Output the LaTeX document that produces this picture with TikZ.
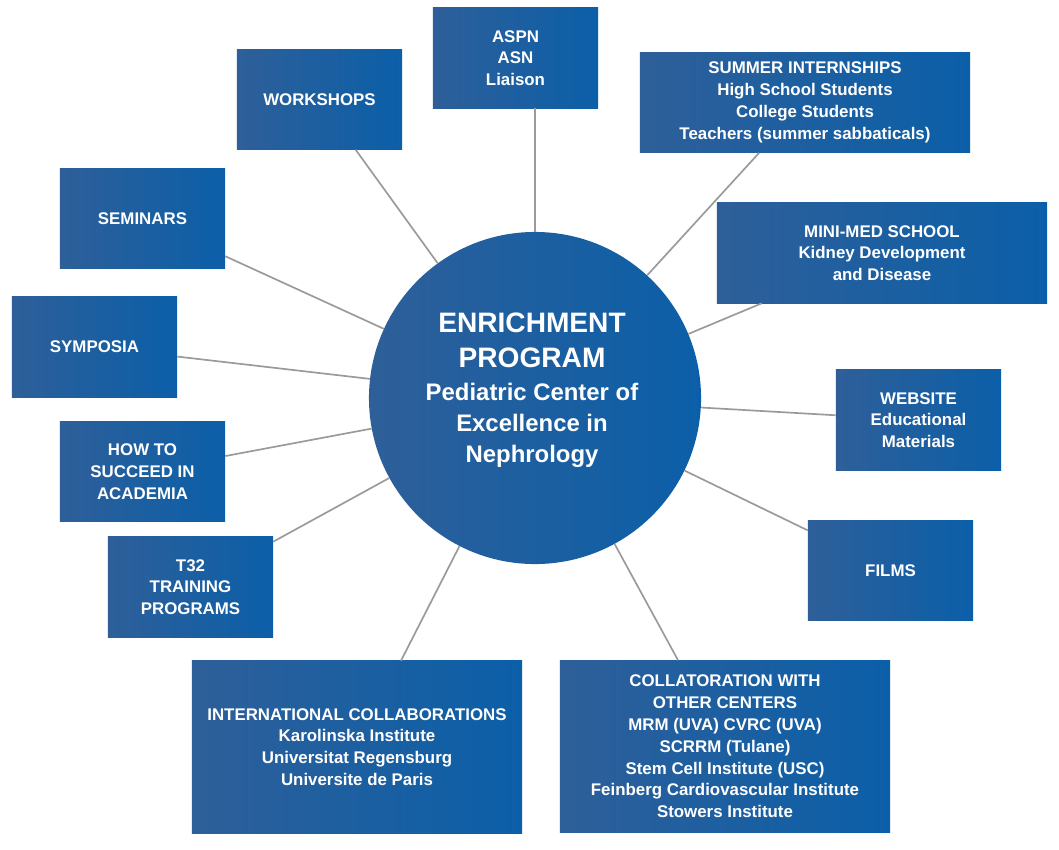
\documentclass[tikz,border=0pt]{standalone}
\usepackage{fontspec}
\setmainfont{Liberation Sans}
\usetikzlibrary{positioning}
\definecolor{bdark}{HTML}{2E5F99}
\definecolor{blight}{HTML}{229CDA}
\definecolor{bdeep}{HTML}{0B5FA8}
\definecolor{spoke}{HTML}{9A9A9A}
\tikzset{
  topic/.style={minimum width=4.125cm, minimum height=2.5cm, inner sep=2pt,
    left color=bdark, middle color=blight, right color=bdeep,
    text=white, font=\bfseries\fontsize{12}{15.5}\selectfont, align=center},
  widetopic/.style={topic, minimum width=8.25cm},
  tallwide/.style={widetopic, minimum height=4.3cm},
  hub/.style={circle, minimum size=8.3cm, inner sep=0pt,
    left color=bdark, middle color=blight, right color=bdeep,
    text=white, align=center},
  spokeline/.style={spoke, line width=1.2pt}
}
\begin{document}
\begin{tikzpicture}[x=0.025cm, y=-0.025cm]
    % Frame
    \useasboundingbox (0,0) rectangle (1059,849);

    % Outer topics
    \node[topic] (aspn) at (515.5,58) {ASPN\\ASN\\Liaison};
    \node[topic] (work) at (319.5,99.5) {WORKSHOPS};
    \node[widetopic] (summer) at (805,102.5) {SUMMER INTERNSHIPS\\High School Students\\College Students\\Teachers (summer sabbaticals)};
    \node[topic] (sem) at (142.5,218.5) {SEMINARS};
    \node[widetopic] (mini) at (882,253) {MINI-MED SCHOOL\\Kidney Development\\and Disease};
    \node[topic] (symp) at (94.5,347) {SYMPOSIA};
    \node[topic] (web) at (918.5,420) {WEBSITE\\Educational\\Materials};
    \node[topic] (howto) at (142.5,471.5) {HOW TO\\SUCCEED IN\\ACADEMIA};
    \node[topic] (t32) at (190.5,587) {T32\\TRAINING\\PROGRAMS};
    \node[topic] (films) at (890.5,570.5) {FILMS};
    \node[tallwide] (intl) at (357,747) {INTERNATIONAL COLLABORATIONS\\Karolinska Institute\\Universitat Regensburg\\Universite de Paris};
    \node[tallwide] (collab) at (725,746.5) {COLLATORATION WITH\\OTHER CENTERS\\MRM (UVA) CVRC (UVA)\\SCRRM (Tulane)\\Stem Cell Institute (USC)\\Feinberg Cardiovascular Institute\\Stowers Institute};

    % Hub
    \node[hub] (hub) at (535,398) {};
    \node[text=white, font=\bfseries\fontsize{20}{25}\selectfont, align=center] (title) at (532,340) {ENRICHMENT\\PROGRAM};
    \node[text=white, font=\bfseries\fontsize{17}{22}\selectfont, align=center, below=4pt of title] (sub) {Pediatric Center of\\Excellence in\\Nephrology};

    % Spokes
    \draw[spokeline] (hub) -- (hub |- aspn.south);
    \foreach \t in {work,summer,sem,mini,symp,web,howto,t32,films,intl,collab}
        \draw[spokeline] (hub) -- (\t);
\end{tikzpicture}
\end{document}
